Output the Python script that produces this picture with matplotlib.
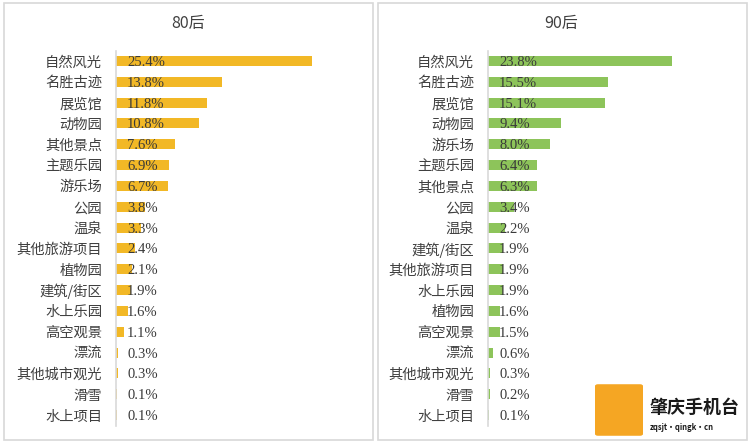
import matplotlib
matplotlib.use('Agg')
import matplotlib.pyplot as plt
from matplotlib.patches import Rectangle, FancyBboxPatch

plt.rcParams['font.family'] = ['Noto Sans CJK SC', 'DejaVu Sans']

# 80后数据
cats_80 = ['自然风光', '名胜古迹', '展览馆', '动物园', '其他景点', '主题乐园', '游乐场',
           '公园', '温泉', '其他旅游项目', '植物园', '建筑/街区', '水上乐园', '高空观景',
           '漂流', '其他城市观光', '滑雪', '水上项目']
vals_80 = [25.4, 13.8, 11.8, 10.8, 7.6, 6.9, 6.7, 3.8, 3.3, 2.4, 2.1, 1.9, 1.6, 1.1,
           0.3, 0.3, 0.1, 0.1]

# 90后数据
cats_90 = ['自然风光', '名胜古迹', '展览馆', '动物园', '游乐场', '主题乐园', '其他景点',
           '公园', '温泉', '建筑/街区', '其他旅游项目', '水上乐园', '植物园', '高空观景',
           '漂流', '其他城市观光', '滑雪', '水上项目']
vals_90 = [23.8, 15.5, 15.1, 9.4, 8.0, 6.4, 6.3, 3.4, 2.2, 1.9, 1.9, 1.9, 1.6, 1.5,
           0.6, 0.3, 0.2, 0.1]

W, H = 750, 443
fig = plt.figure(figsize=(7.5, 4.43), dpi=100)
fig.patch.set_facecolor('white')

# 面板边框
for x0, x1 in [(4, 373), (378, 747)]:
    fig.patches.append(Rectangle((x0 / W, 1 - 440 / H), (x1 - x0) / W, 437 / H,
                                 transform=fig.transFigure, facecolor='none',
                                 edgecolor='#d8d8d8', linewidth=1.2, zorder=0))


def draw_panel(left_px, cats, vals, color, title, title_x):
    ax = fig.add_axes([left_px / W, 1 - 425.5 / H, 240 / W, 375 / H])
    n = len(cats)
    y = list(range(n))
    ax.barh(y, vals, height=0.48, color=color, zorder=2)
    ax.set_ylim(n - 0.5, -0.5)
    ax.set_xlim(0, 31.1)
    ax.set_yticks(y)
    ax.set_yticklabels(cats, fontsize=10.3, color='#404040')
    ax.tick_params(axis='y', length=0, pad=10)
    ax.set_xticks([])
    for s in ['top', 'right', 'bottom']:
        ax.spines[s].set_visible(False)
    ax.spines['left'].set_color('#d9d9d9')
    ax.spines['left'].set_linewidth(1.2)
    ax.patch.set_alpha(0)
    for yi, v in zip(y, vals):
        ax.annotate(f'{v:.1f}%', (0, yi), xytext=(8, 0), textcoords='offset points',
                    ha='left', va='center_baseline', fontsize=10.5, color='#3a3a3a',
                    family=['Liberation Serif', 'DejaVu Serif'], zorder=3)
    fig.text(title_x / W, 1 - 23 / H, title, ha='center', va='center',
             fontsize=11.5, color='#404040')


draw_panel(116, cats_80, vals_80, '#F2B826', '80后', 188)
draw_panel(488, cats_90, vals_90, '#8DC45A', '90后', 561)

# 右下角水印
fig.patches.append(FancyBboxPatch((598 / W, 1 - 434 / H), 42 / W, 48 / H,
                                  boxstyle='round,pad=0.004', transform=fig.transFigure,
                                  facecolor='#F5A623', edgecolor='none', zorder=5))
fig.text(650 / W, 1 - 407 / H, '肇庆手机台', fontsize=13, fontweight='bold',
         color='#1a1a1a', ha='left', va='center', zorder=6)
fig.text(650 / W, 1 - 428 / H, 'zqsjt·qingk·cn', fontsize=5.5, fontweight='bold',
         color='#1a1a1a', ha='left', va='center', zorder=6)

fig.savefig('out.png', dpi=100)
